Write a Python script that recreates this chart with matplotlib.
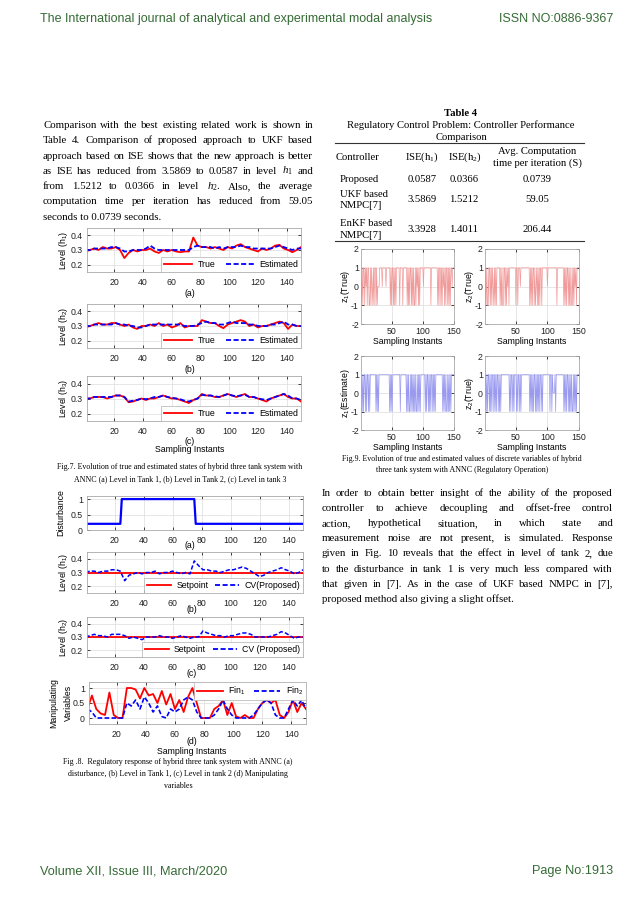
import numpy as np
import matplotlib
matplotlib.use('Agg')
import matplotlib.pyplot as plt
from matplotlib.lines import Line2D

plt.rcParams['font.family'] = ['Liberation Sans', 'DejaVu Sans']
plt.rcParams['axes.unicode_minus'] = False
plt.rcParams['mathtext.fontset'] = 'custom'
plt.rcParams['mathtext.rm'] = 'Liberation Serif'
plt.rcParams['mathtext.it'] = 'Liberation Serif:italic'
plt.rcParams['mathtext.sf'] = 'Liberation Sans'

# ---------------- data ----------------
# sample grid for the continuous signals (every 3rd instant)
t3 = np.arange(0, 151, 3)

# Fig.7 true / estimated levels
h1_true = [0.29, 0.30, 0.31, 0.30, 0.32, 0.31, 0.31, 0.32, 0.30, 0.245,
           0.28, 0.30, 0.29, 0.30, 0.30, 0.31, 0.29, 0.28, 0.30, 0.29,
           0.30, 0.29, 0.285, 0.29, 0.29, 0.385, 0.33, 0.32, 0.32, 0.31,
           0.32, 0.31, 0.30, 0.32, 0.31, 0.33, 0.34, 0.32, 0.31, 0.30,
           0.29, 0.31, 0.30, 0.31, 0.33, 0.335, 0.31, 0.30, 0.285, 0.30,
           0.32]
h1_est = [0.30, 0.30, 0.31, 0.31, 0.31, 0.31, 0.32, 0.32, 0.31, 0.29,
          0.29, 0.30, 0.30, 0.30, 0.31, 0.33, 0.31, 0.30, 0.30, 0.30,
          0.30, 0.30, 0.30, 0.30, 0.30, 0.32, 0.33, 0.32, 0.32, 0.32,
          0.31, 0.32, 0.31, 0.32, 0.32, 0.32, 0.33, 0.32, 0.32, 0.31,
          0.31, 0.31, 0.31, 0.31, 0.32, 0.33, 0.32, 0.31, 0.30, 0.31,
          0.31]
h2_true = [0.29, 0.30, 0.31, 0.32, 0.31, 0.31, 0.32, 0.32, 0.31, 0.30,
           0.31, 0.29, 0.28, 0.30, 0.30, 0.31, 0.30, 0.32, 0.30, 0.31,
           0.29, 0.30, 0.32, 0.29, 0.30, 0.30, 0.30, 0.34, 0.33, 0.32,
           0.32, 0.30, 0.285, 0.31, 0.32, 0.33, 0.34, 0.33, 0.30, 0.31,
           0.29, 0.30, 0.30, 0.31, 0.32, 0.33, 0.32, 0.28, 0.31, 0.30,
           0.30]
h2_est = [0.30, 0.30, 0.31, 0.31, 0.31, 0.31, 0.31, 0.32, 0.31, 0.31,
          0.30, 0.30, 0.29, 0.29, 0.30, 0.31, 0.31, 0.31, 0.31, 0.31,
          0.31, 0.31, 0.31, 0.30, 0.30, 0.30, 0.31, 0.32, 0.33, 0.32,
          0.32, 0.31, 0.31, 0.32, 0.33, 0.32, 0.32, 0.32, 0.31, 0.31,
          0.30, 0.30, 0.30, 0.31, 0.31, 0.32, 0.33, 0.31, 0.31, 0.30,
          0.30]
h3_true = [0.30, 0.30, 0.31, 0.31, 0.31, 0.30, 0.31, 0.32, 0.32, 0.31,
           0.275, 0.28, 0.29, 0.30, 0.29, 0.30, 0.30, 0.31, 0.32, 0.31,
           0.30, 0.30, 0.29, 0.28, 0.27, 0.29, 0.30, 0.33, 0.32, 0.32,
           0.31, 0.31, 0.32, 0.33, 0.32, 0.31, 0.32, 0.33, 0.31, 0.31,
           0.30, 0.29, 0.28, 0.30, 0.31, 0.32, 0.33, 0.31, 0.30, 0.30,
           0.28]
h3_est = [0.30, 0.30, 0.31, 0.31, 0.31, 0.31, 0.31, 0.32, 0.32, 0.31,
          0.28, 0.285, 0.29, 0.30, 0.295, 0.30, 0.31, 0.31, 0.32, 0.31,
          0.305, 0.30, 0.295, 0.285, 0.28, 0.29, 0.30, 0.325, 0.32, 0.32,
          0.315, 0.31, 0.32, 0.33, 0.32, 0.315, 0.32, 0.325, 0.31, 0.31,
          0.30, 0.295, 0.29, 0.30, 0.31, 0.32, 0.33, 0.32, 0.30, 0.30,
          0.29]

# Fig.8 regulatory response
dist_x = [1, 24, 25, 75, 76, 150]
dist_y = [0.2, 0.2, 1.0, 1.0, 0.2, 0.2]
sp_x = [1, 150]
sp_y = [0.3, 0.3]
h1_cv = [0.30, 0.31, 0.31, 0.30, 0.31, 0.31, 0.32, 0.32, 0.31, 0.24,
         0.28, 0.29, 0.30, 0.29, 0.30, 0.30, 0.31, 0.29, 0.30, 0.30,
         0.31, 0.30, 0.29, 0.30, 0.29, 0.385, 0.35, 0.32, 0.32, 0.31,
         0.31, 0.30, 0.31, 0.32, 0.32, 0.33, 0.34, 0.33, 0.31, 0.29,
         0.27, 0.28, 0.30, 0.31, 0.32, 0.335, 0.32, 0.31, 0.29, 0.30,
         0.32]
h2_cv = [0.30, 0.31, 0.32, 0.31, 0.31, 0.30, 0.32, 0.32, 0.32, 0.31,
         0.29, 0.30, 0.29, 0.28, 0.30, 0.30, 0.30, 0.31, 0.30, 0.30,
         0.29, 0.30, 0.31, 0.30, 0.29, 0.30, 0.30, 0.345, 0.33, 0.32,
         0.31, 0.31, 0.30, 0.31, 0.31, 0.32, 0.33, 0.33, 0.32, 0.30,
         0.30, 0.30, 0.30, 0.31, 0.32, 0.34, 0.33, 0.31, 0.29, 0.30,
         0.30]
fin1 = [0.30, 0.75, 0.30, 0.15, 0.10, 0.85, 0.10, 0.00, 0.00, 1.00,
        1.00, 0.95, 0.65, 1.00, 0.75, 0.80, 0.50, 0.90, 0.45, 0.80,
        0.30, 0.60, 0.20, 0.70, 1.00, 0.50, 0.00, 0.00, 0.00, 0.30,
        0.40, 0.60, 0.10, 0.50, 0.05, 0.00, 0.10, 0.00, 0.00, 0.30,
        0.50, 0.60, 0.50, 0.60, 0.10, 0.00, 0.20, 0.60, 0.20, 0.50,
        0.30]
fin2 = [0.30, 0.20, 0.00, 0.00, 0.00, 0.00, 0.00, 0.00, 0.00, 0.50,
        0.40, 0.60, 0.30, 0.70, 0.50, 0.20, 0.40, 0.05, 0.00, 0.30,
        0.20, 0.30, 0.60, 0.70, 0.60, 0.20, 0.00, 0.00, 0.00, 0.10,
        0.30, 0.60, 0.30, 0.10, 0.00, 0.00, 0.00, 0.00, 0.10, 0.30,
        0.50, 0.60, 0.50, 0.10, 0.00, 0.00, 0.30, 0.60, 0.40, 0.60,
        0.30]

# Fig.9 discrete variables (one value per sampling instant 1..150)
z1_true = [1, -1, 1, -1, 1, 1, -1, 1, 0, 1, -1, 1, 1, -1, -1, 1, -1, 1, 0, -1,
           1, -1, 1, 1, -1, 1, -1, 0, 0,
           0, 1, 1, 1, 1, 0, 1, 1, 1, 1, 1, 0, 1, 1, 1, 1, 1, 1,
           -1, 1, -1, 1, 1, -1, 1, -1, 1, -1, 1, 1, 1,
           1, 1, -1, 1, 1, 1, 1, -1, 1, 1, 1, 1, 1, 1,
           -1, 1, -1, 1, -1, 1, 1, -1, 1, -1, 1, -1, -1, 1, -1, 1, 0, 1, -1, 1, -1, 1,
           1, 1, 1, 1, 0, 1, 1, 1, 1, 1, 1, 1, 1, 1, 1, 1, -1, 1, 1, 1, 1, 1, 1, 1, 1, 1,
           1, -1, 1, -1, 1, 1, -1, 1, -1, 1, 0, 1, -1, 1, -1, 1, 1, -1, 1, -1, 1, -1, 1, 1, 0, 1, 1, 1]
z2_true = [1, -1, 1, -1, -1, 1, -1, 1, 1, -1, 1, -1, 1, 0, -1, 1, -1, 1, -1, 1,
           1, 1, 1, 1,
           -1, 1, -1, 1, -1, -1, 1, 1, -1, 1, -1, 1, 0, 1, -1, 1,
           1, 1, 1, 1, 1, 1, 1, 1, 1,
           -1, 1, 1, -1, 1, 1, 1, 0, 1,
           1, 1, 1, 1, 1, 1, 1, 1, 1, 1, 1, 1, 1,
           -1, 1, -1, 1, -1, 1, 1, -1, 1, -1, 0, 1, -1, 1, -1, 1, -1, 1, 1, -1, 1, 1,
           1, 1, 1, 1, 1, 1, 0, 1, 1, 1, 1, 1, 1, 1, 1, 1, 1, 1, 1, 1, 1, -1, 1, 1, 1, 1,
           1, 1, 1, 1, 1, 1,
           -1, 1, -1, 1, -1, 1, 1, -1, 1, -1, 1, -1, -1, 1, -1, 1, -1, 1, 0, 1, -1, 1,
           1, 1, 1]
z1_est = [-1, 1, -1, 1, -1, 1, 1, -1, 1, -1, 1, 1, -1, 1, -1,
          1, 1, 1, 1, 1, 1, 1, 1, 1,
          -1, 1, -1, 1, -1, 1,
          1, 1, 1, 1, 1, 1, 1, 1, 1, 1, 1, 1, 1, 1, 1, 1,
          -1, 1, -1, 1, -1, 1,
          1, 1, 1, 1, 1, 1, 1, 1, 1, 1, 1, -1, 1, 1, 1, 1, 1, 1, 1, 1, 1,
          -1, 1, -1, 1, -1, -1, 1, -1, 1, -1, 1, -1, 1, -1, 1, -1, -1, 1, -1, 1, -1, 1, -1,
          1, 1, 1, 1, 1, 1, 1,
          -1, 1, -1, 1, 1, -1, 1, -1, 1, -1, 1, 1, -1, 1, -1, 1, -1, 1, 1,
          1, 1, 1, 1, 1, 1, 1, 1, 1,
          -1, 1, -1, 1, -1, 1, -1, -1, 1, -1, 1, -1, 1, -1,
          1, 1, 1, 1, 1]
z2_est = [-1, 1, -1, 1, -1, 1, 1, -1, 1, -1, 1, -1, 1, 1, -1, 1, -1, 1, -1, 1,
          1, -1, 1, -1, 1, -1, 1,
          1, 1, 1, 1, 1, 1, 1, 1, 1, 1, 1, 1,
          -1, 1, -1, 1, 1, -1, 1, -1, 1, 1, 1, -1, 1, -1, 1, 1, -1, 1, -1, 1, 1,
          1, 1, 1, 1, 1, 1, 1, 1, 1, 1, 1,
          -1, 1, -1, 1, -1, 1, -1, 1, 1, -1, 1, -1, 1, -1, 1, -1, 1, 1, -1, 1, -1, 1,
          1, 1, 1, 1, 1, 1, 1, 1, 1, 1,
          -1, 1, 1, -1, 1, 0, 0, 0, 1, -1, 1, 1,
          1, 1, 1, 1, 1, 1, 1, 1, 1, 1,
          -1, 1, -1, 1, -1, 1, 1, -1, 1, -1, 1, -1, 1, -1, -1, 1, -1, 1, -1, 1, -1, 1,
          1, 1, 1]

# Table 4
tab_controllers = [["Proposed"], ["UKF based", "NMPC[7]"], ["EnKF based", "NMPC[7]"]]
tab_ise1 = ["0.0587", "3.5869", "3.3928"]
tab_ise2 = ["0.0366", "1.5212", "1.4011"]
tab_time = ["0.0739", "59.05", "206.44"]

left_par = [
    "Comparison with the best existing related work is shown in",
    "Table 4. Comparison of proposed approach to UKF based",
    "approach based on ISE shows that the new approach is better",
    r"as ISE has reduced from 3.5869 to 0.0587 in level $h_\mathit{1}$ and",
    r"from 1.5212 to 0.0366 in level $h_\mathit{2}$.  Also, the average",
    "computation time per iteration has reduced from 59.05",
    "seconds to 0.0739 seconds.",
]
right_par = [
    "In order to obtain better insight of the ability of the proposed",
    "controller to achieve decoupling and offset-free control",
    "action, hypothetical situation, in which state and",
    "measurement noise are not present, is simulated. Response",
    "given in Fig. 10 reveals that the effect in level of tank 2, due",
    "to the disturbance in tank 1 is very much less compared with",
    "that given in [7]. As in the case of UKF based NMPC in [7],",
    "proposed method also giving a slight offset.",
]

# ---------------- layout helpers ----------------
W, H = 638, 902
fig = plt.figure(figsize=(W / 100, H / 100), dpi=100)
SERIF = ['Liberation Serif', 'DejaVu Serif']
GREEN = '#356b35'
FS = 6.3
BODY = 7.8
TAB = 7.7


def add_ax(l, t, r, b):
    return fig.add_axes([l / W, 1 - b / H, (r - l) / W, (b - t) / H])


def put(x, y, s, **kw):
    kw.setdefault('ha', 'left')
    kw.setdefault('va', 'center')
    return fig.text(x / W, 1 - y / H, s, **kw)


def justify(lines, x0, x1, y0, dy, size):
    rend = fig.canvas.get_renderer()
    for k, line in enumerate(lines):
        y = y0 + k * dy
        if k == len(lines) - 1:
            put(x0, y, line, fontsize=size, family=SERIF, va='baseline')
            continue
        words = [w for w in line.split(' ') if w]
        objs = [put(x0, y, w, fontsize=size, family=SERIF, va='baseline') for w in words]
        widths = [o.get_window_extent(rend).width for o in objs]
        gap = (x1 - x0 - sum(widths)) / (len(words) - 1)
        x = x0
        for o, w in zip(objs, widths):
            o.set_x(x / W)
            x += w + gap


def matlab_axes(ax, xlim, ylim, xticks, yticks, yticklabels=None, xpad=4.5, ypad=3):
    ax.set_xlim(*xlim)
    ax.set_ylim(*ylim)
    ax.set_xticks(xticks)
    ax.set_yticks(yticks)
    if yticklabels is not None:
        ax.set_yticklabels(yticklabels)
    ax.tick_params(direction='in', length=2, width=0.6, top=True, right=True,
                   labelsize=FS, colors='#222222')
    ax.tick_params(axis='x', pad=xpad)
    ax.tick_params(axis='y', pad=ypad)
    ax.grid(True, color='#dcdcdc', lw=0.5)
    ax.set_axisbelow(True)
    for s in ax.spines.values():
        s.set_color('#a8a8a8')
        s.set_linewidth(0.6)


def legend(ax, labels, loc, hlen=3.2, colsp=1.2):
    hs = [Line2D([], [], color='r', lw=1.3),
          Line2D([], [], color='b', lw=1.3, ls=(0, (2.8, 1.4)))]
    lg = ax.legend(hs, labels, loc=loc, ncol=2, fontsize=FS, frameon=True, fancybox=False,
                   edgecolor='#b0b0b0', framealpha=1, borderaxespad=0, handlelength=hlen,
                   handletextpad=0.6, columnspacing=colsp, borderpad=0.35)
    lg.get_frame().set_linewidth(0.5)


# ---------------- header / footer ----------------
put(40, 19, "The International journal of analytical and experimental modal analysis",
    fontsize=9.0, color=GREEN)
put(613, 19, "ISSN NO:0886-9367", fontsize=9.0, color=GREEN, ha='right')
put(40, 871, "Volume XII, Issue III, March/2020", fontsize=9.2, color=GREEN)
put(613, 871, "Page No:1913", fontsize=9.2, color=GREEN, ha='right')

# ---------------- paragraphs ----------------
justify(left_par, 43, 313, 128, 15.3, BODY)
justify(right_par, 322, 613, 496, 15.1, BODY)

# ---------------- Fig.7 ----------------
f7 = [(228, 272, h1_true, h1_est, '1', '(a)'),
      (304, 348, h2_true, h2_est, '2', '(b)'),
      (376, 421, h3_true, h3_est, '3', '(c)')]
for top, bot, tr, es, k, tag in f7:
    ax = add_ax(87, top, 301, bot)
    ax.plot(t3, tr, color='r', lw=1.3)
    ax.plot(t3, es, color='b', lw=1.3, ls=(0, (2.8, 1.4)))
    matlab_axes(ax, (1, 150), (0.15, 0.45), range(20, 141, 20), [0.2, 0.3, 0.4])
    legend(ax, ['True', 'Estimated'], 'lower right')
    put(63, (top + bot) / 2, 'Level (h$_\\mathsf{%s}$)' % k, rotation=90, ha='center', fontsize=FS)
    put(190, bot + 21, tag, ha='center', fontsize=FS)
put(190, 450, 'Sampling Instants', ha='center', fontsize=FS)
put(180, 467, "Fig.7. Evolution of true and estimated states of hybrid three tank system with",
    ha='center', fontsize=5.7, family=SERIF)
put(180, 479, "ANNC (a) Level in Tank 1, (b) Level in Tank 2, (c) Level in tank 3",
    ha='center', fontsize=5.7, family=SERIF)

# ---------------- Fig.8 ----------------
ax = add_ax(87, 496, 303, 530)
ax.plot(dist_x, dist_y, color='b', lw=1.6)
matlab_axes(ax, (1, 150), (0, 1.1), range(20, 141, 20), [0, 0.5, 1], ['0', '0.5', '1'])
put(61, 513, 'Disturbance', rotation=90, ha='center', fontsize=FS)
put(190, 545, '(a)', ha='center', fontsize=FS)

for top, bot, cv, k, tag, lab in [(552, 593, h1_cv, '1', '(b)', 'CV(Proposed)'),
                                  (617, 657, h2_cv, '2', '(c)', 'CV (Proposed)')]:
    ax = add_ax(87, top, 303, bot)
    ax.plot(sp_x, sp_y, color='r', lw=1.3)
    ax.plot(t3, cv, color='b', lw=1.1, ls=(0, (2.8, 1.4)))
    matlab_axes(ax, (1, 150), (0.15, 0.45), range(20, 141, 20), [0.2, 0.3, 0.4])
    legend(ax, ['Setpoint', lab], 'lower right', hlen=2.7, colsp=0.8)
    put(63, (top + bot) / 2, 'Level (h$_\\mathsf{%s}$)' % k, rotation=90, ha='center', fontsize=FS)
    put(192, bot + 16, tag, ha='center', fontsize=FS)

ax = add_ax(89, 682, 306, 724)
ax.plot(t3, fin1, color='r', lw=1.3)
ax.plot(t3, fin2, color='b', lw=1.2, ls=(0, (2.8, 1.4)))
matlab_axes(ax, (1, 150), (-0.2, 1.2), range(20, 141, 20), [0, 0.5, 1], ['0', '0.5', '1'])
legend(ax, ['Fin$_\\mathsf{1}$', 'Fin$_\\mathsf{2}$'], 'upper right', hlen=3.0, colsp=1.0)
put(54, 703, 'Manipulating', rotation=90, ha='center', fontsize=FS)
put(68, 703, 'Variables', rotation=90, ha='center', fontsize=FS)
put(192, 741, '(d)', ha='center', fontsize=FS)
put(192, 752, 'Sampling Instants', ha='center', fontsize=FS)
put(178, 762, "Fig .8.  Regulatory response of hybrid three tank system with ANNC (a)",
    ha='center', fontsize=5.7, family=SERIF)
put(178, 774, "disturbance, (b) Level in Tank 1, (c) Level in tank 2 (d) Manipulating",
    ha='center', fontsize=5.7, family=SERIF)
put(178, 786, "variables", ha='center', fontsize=5.7, family=SERIF)

# ---------------- Table 4 ----------------
put(461, 113, "Table 4", ha='center', fontsize=TAB, family=SERIF, weight='bold')
put(461, 125, "Regulatory Control Problem: Controller Performance", ha='center', fontsize=TAB, family=SERIF)
put(461, 137, "Comparison", ha='center', fontsize=TAB, family=SERIF)
fig.add_artist(Line2D([335 / W, 584 / W], [1 - 143 / H, 1 - 143 / H], color='#333333', lw=0.8))
fig.add_artist(Line2D([335 / W, 584 / W], [1 - 241 / H, 1 - 241 / H], color='#333333', lw=0.8))
put(336, 157, "Controller", fontsize=TAB, family=SERIF)
put(422, 157, "ISE(h$_1$)", ha='center', fontsize=TAB, family=SERIF)
put(465, 157, "ISE(h$_2$)", ha='center', fontsize=TAB, family=SERIF)
put(537, 152, "Avg. Computation", ha='center', fontsize=TAB, family=SERIF)
put(537, 163, "time per iteration (S)", ha='center', fontsize=TAB, family=SERIF)
row_y = [179, 200, 229]
for ry, names, a, b, c in zip(row_y, tab_controllers, tab_ise1, tab_ise2, tab_time):
    if len(names) == 1:
        put(340, ry, names[0], fontsize=TAB, family=SERIF)
    else:
        put(340, ry - 5.5, names[0], fontsize=TAB, family=SERIF)
        put(340, ry + 6, names[1], fontsize=TAB, family=SERIF)
    put(422, ry, a, ha='center', fontsize=TAB, family=SERIF)
    put(464, ry, b, ha='center', fontsize=TAB, family=SERIF)
    put(537, ry, c, ha='center', fontsize=TAB, family=SERIF)

# ---------------- Fig.9 ----------------
f9 = [((361, 249, 454, 324), z1_true, '#f19a9a', 'z$_\\mathsf{1}$(True)', 345),
      ((485, 249, 579, 324), z2_true, '#f19a9a', 'z$_\\mathsf{2}$(True)', 470),
      ((361, 356, 454, 430), z1_est, '#9a9af0', 'z$_\\mathsf{1}$(Estimate)', 345),
      ((485, 356, 579, 430), z2_est, '#9a9af0', 'z$_\\mathsf{2}$(True)', 470)]
for (l, t, r, b), z, col, lab, lx in f9:
    ax = add_ax(l, t, r, b)
    ax.plot(np.arange(1, len(z) + 1), z, color=col, lw=0.5)
    matlab_axes(ax, (1, 150), (-2, 2), [50, 100, 150], [-2, -1, 0, 1, 2], xpad=2, ypad=1.5)
    put(lx, (t + b) / 2, lab, rotation=90, ha='center', fontsize=FS)
    put((l + r) / 2, b + 17, 'Sampling Instants', ha='center', fontsize=FS)
put(462, 459, "Fig.9. Evolution of true and estimated values of discrete variables of hybrid",
    ha='center', fontsize=5.7, family=SERIF)
put(462, 470, "three tank system with ANNC (Regulatory Operation)",
    ha='center', fontsize=5.7, family=SERIF)

fig.savefig('out.png', dpi=100)
